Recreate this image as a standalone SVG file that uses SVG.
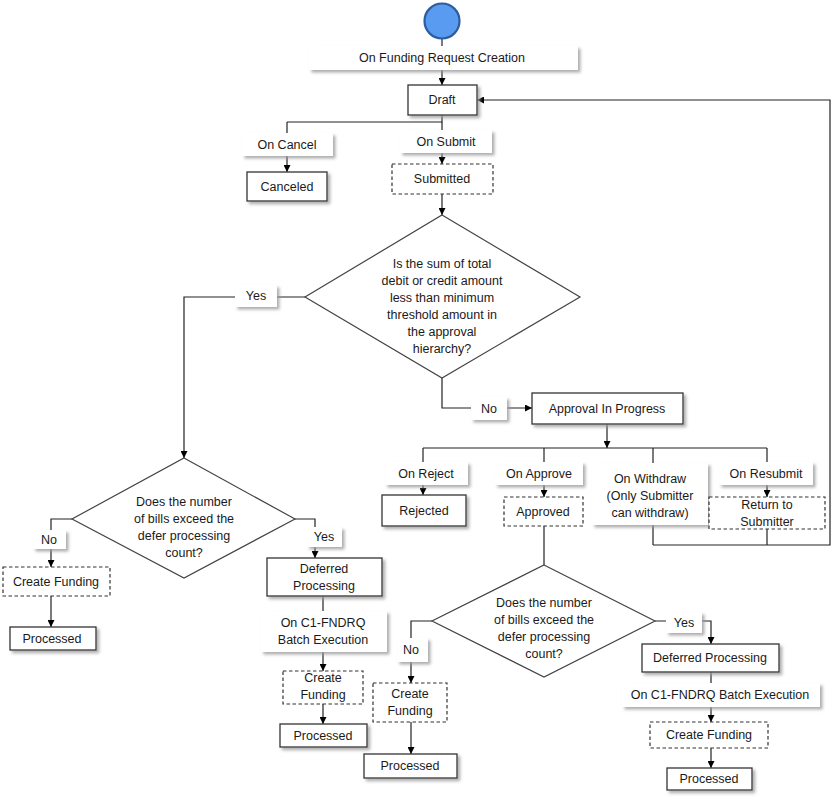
<svg xmlns="http://www.w3.org/2000/svg" width="833" height="803" viewBox="0 0 833 803">
<defs>
<filter id="sh" x="-20%" y="-20%" width="150%" height="160%">
<feDropShadow dx="2.5" dy="2.5" stdDeviation="1.5" flood-color="#9a9a9a" flood-opacity="0.8"/>
</filter>
<marker id="ar" viewBox="0 0 10 10" refX="10" refY="5" markerWidth="7" markerHeight="7" markerUnits="userSpaceOnUse" orient="auto">
<path d="M0,0 L10,5 L0,10 z" fill="#000"/>
</marker>
<style>
text{font-family:"Liberation Sans",Arial,sans-serif;font-size:12.5px;fill:#1a1a1a;text-anchor:middle}
.c{fill:none;stroke:#222;stroke-width:1.2}
.a{marker-end:url(#ar)}
.lb{fill:#fff;filter:url(#sh)}
.n{fill:#fff;stroke:#333;stroke-width:1.3;filter:url(#sh)}
.d{fill:#fff;stroke:#333;stroke-width:1.2;stroke-dasharray:3.5,2.5}
.dm{fill:#fff;stroke:#444;stroke-width:1.2}
</style>
</defs>
<rect width="833" height="803" fill="#fff"/>
<g id="connectors">
<path class="c a" d="M442 39 V85"/>
<path class="c" d="M442 115 V122 H287"/>
<path class="c a" d="M287 122 V172"/>
<path class="c a" d="M442 122 V164"/>
<path class="c a" d="M442 194 V215"/>
<path class="c a" d="M305 297 H184 V458"/>
<path class="c a" d="M442 378 V408 H532"/>
<path class="c a" d="M72 519 H51 V567"/>
<path class="c a" d="M51 596 V627"/>
<path class="c a" d="M295 519 H315 V558"/>
<path class="c a" d="M323 596 V671"/>
<path class="c a" d="M323 704 V724"/>
<path class="c a" d="M607 424 V448"/>
<path class="c" d="M423 448 H767"/>
<path class="c a" d="M423 448 V495"/>
<path class="c a" d="M544 448 V497"/>
<path class="c" d="M653 448 V545"/>
<path class="c a" d="M767 448 V497"/>
<path class="c" d="M767 529 V545"/>
<path class="c a" d="M653 545 H830 V100 H477"/>
<path class="c" d="M544 526 V565"/>
<path class="c a" d="M432 621 H411 V683"/>
<path class="c a" d="M411 722 V754"/>
<path class="c a" d="M655 621 H711 V644"/>
<path class="c a" d="M711 672 V722"/>
<path class="c a" d="M711 748 V768"/>
</g>
<g id="start"><circle cx="442" cy="21" r="17.5" fill="#5a9bf2" stroke="#2d5d9c" stroke-width="2.2"/></g>
<g id="lbl-creation"><rect class="lb" x="309" y="46" width="269" height="24"/><text x="442" y="62">On Funding Request Creation</text></g>
<g id="draft"><rect class="n" x="408" y="85" width="69" height="30"/><text x="442" y="104">Draft</text></g>
<g id="lbl-cancel"><rect class="lb" x="242" y="133" width="91" height="23"/><text x="287" y="149">On Cancel</text></g>
<g id="canceled"><rect class="n" x="247" y="172" width="80" height="29"/><text x="287" y="191">Canceled</text></g>
<g id="lbl-submit"><rect class="lb" x="400" y="130" width="92" height="23"/><text x="446" y="146">On Submit</text></g>
<g id="submitted"><rect class="d" x="392" y="164" width="101" height="30"/><text x="442" y="183">Submitted</text></g>
<g id="decision1"><polygon class="dm" points="442,215 580,297 442,378 305,297"/>
<text x="442" y="268">Is the sum of total</text><text x="442" y="285">debit or credit amount</text><text x="442" y="302">less than minimum</text><text x="442" y="319">threshold amount in</text><text x="442" y="336">the approval</text><text x="442" y="353">hierarchy?</text></g>
<g id="lbl-yes1"><rect class="lb" x="235" y="285" width="42" height="22"/><text x="256" y="300">Yes</text></g>
<g id="lbl-no1"><rect class="lb" x="471" y="397" width="36" height="23"/><text x="489" y="413">No</text></g>
<g id="approval"><rect class="n" x="532" y="393" width="151" height="31"/><text x="607" y="413">Approval In Progress</text></g>
<g id="lbl-reject"><rect class="lb" x="385" y="462" width="83" height="23"/><text x="426" y="478">On Reject</text></g>
<g id="rejected"><rect class="n" x="382" y="495" width="84" height="31"/><text x="424" y="515">Rejected</text></g>
<g id="lbl-approve"><rect class="lb" x="495" y="462" width="88" height="23"/><text x="539" y="478">On Approve</text></g>
<g id="approved"><rect class="d" x="504" y="497" width="79" height="29"/><text x="543" y="516">Approved</text></g>
<g id="lbl-withdraw"><rect class="lb" x="592" y="463" width="116" height="62"/><text x="650" y="483">On Withdraw</text><text x="650" y="500">(Only Submitter</text><text x="650" y="517">can withdraw)</text></g>
<g id="lbl-resubmit"><rect class="lb" x="719" y="462" width="94" height="23"/><text x="766" y="478">On Resubmit</text></g>
<g id="return"><rect class="d" x="709" y="497" width="116" height="32"/><text x="767" y="509">Return to</text><text x="767" y="526">Submitter</text></g>
<g id="decision2"><polygon class="dm" points="184,458 295,519 184,578 72,519"/>
<text x="184" y="506">Does the number</text><text x="184" y="523">of bills exceed the</text><text x="184" y="540">defer processing</text><text x="184" y="557">count?</text></g>
<g id="lbl-no2"><rect class="lb" x="33" y="530" width="33" height="19"/><text x="49" y="544">No</text></g>
<g id="create1"><rect class="d" x="3" y="567" width="107" height="29"/><text x="56" y="586">Create Funding</text></g>
<g id="processed1"><rect class="n" x="10" y="627" width="86" height="23"/><text x="52" y="643">Processed</text></g>
<g id="lbl-yes2"><rect class="lb" x="307" y="527" width="35" height="20"/><text x="324" y="541">Yes</text></g>
<g id="deferred1"><rect class="n" x="267" y="558" width="115" height="38"/><text x="324" y="573">Deferred</text><text x="324" y="590">Processing</text></g>
<g id="lbl-batch1"><rect class="lb" x="261" y="611" width="126" height="41"/><text x="323" y="627">On C1-FNDRQ</text><text x="323" y="644">Batch Execution</text></g>
<g id="create2"><rect class="d" x="283" y="671" width="80" height="33"/><text x="323" y="682">Create</text><text x="323" y="699">Funding</text></g>
<g id="processed2"><rect class="n" x="280" y="724" width="87" height="23"/><text x="323" y="740">Processed</text></g>
<g id="decision3"><polygon class="dm" points="544,565 655,621 544,677 432,621"/>
<text x="544" y="607">Does the number</text><text x="544" y="624">of bills exceed the</text><text x="544" y="641">defer processing</text><text x="544" y="658">count?</text></g>
<g id="lbl-no3"><rect class="lb" x="397" y="638" width="31" height="24"/><text x="411" y="654">No</text></g>
<g id="create3"><rect class="d" x="373" y="683" width="74" height="39"/><text x="410" y="698">Create</text><text x="410" y="715">Funding</text></g>
<g id="processed3"><rect class="n" x="364" y="754" width="93" height="24"/><text x="410" y="770">Processed</text></g>
<g id="lbl-yes3"><rect class="lb" x="666" y="612" width="36" height="21"/><text x="684" y="627">Yes</text></g>
<g id="deferred2"><rect class="n" x="642" y="644" width="137" height="28"/><text x="710" y="662">Deferred Processing</text></g>
<g id="lbl-batch2"><rect class="lb" x="622" y="683" width="198" height="24"/><text x="720" y="699">On C1-FNDRQ Batch Execution</text></g>
<g id="create4"><rect class="d" x="650" y="722" width="118" height="26"/><text x="709" y="739">Create Funding</text></g>
<g id="processed4"><rect class="n" x="667" y="768" width="85" height="22"/><text x="709" y="783">Processed</text></g>
</svg>
